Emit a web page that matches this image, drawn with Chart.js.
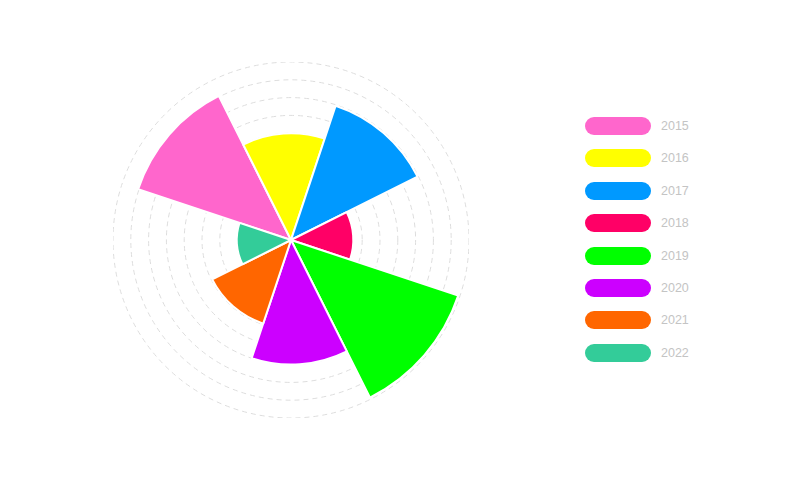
<!DOCTYPE html>
<html>
<head>
<meta charset="utf-8">
<script src="https://cdn.jsdelivr.net/npm/chart.js@4.4.1/dist/chart.umd.min.js"></script>
<style>
  html, body { margin:0; padding:0; background:#fff; }
  body { width:800px; height:480px; position:relative; overflow:hidden; font-family:"Liberation Sans", Arial, sans-serif; }
  #wrap { position:absolute; left:113px; top:62px; width:356px; height:356px; }
  #legend { position:absolute; left:585px; top:117px; margin:0; padding:0; list-style:none; }
  #legend li { display:flex; align-items:center; height:18px; margin-bottom:14.4px; }
  #legend .pill { width:66px; height:18px; border-radius:9px; }
  #legend .txt { margin-left:10px; font-size:12.5px; color:#c4c4c4; }
</style>
</head>
<body>
<div id="wrap"><canvas id="chartCanvas"></canvas></div>
<ul id="legend"></ul>
<script>
const years = ['2015','2016','2017','2018','2019','2020','2021','2022'];
const values = [9.05, 6.0, 7.95, 3.5, 9.9, 7.0, 4.95, 3.05];
const colors = ['#ff66cc','#ffff00','#0099ff','#ff0066','#00ff00','#cc00ff','#ff6600','#33cc99'];
const ringTicks = [0,1,2,3,4,5,6,7,8,9,10];

const chart = new Chart(document.getElementById('chartCanvas'), {
  type: 'polarArea',
  data: {
    labels: years,
    datasets: [{
      data: values,
      backgroundColor: colors,
      borderColor: '#fff',
      borderWidth: 2
    }]
  },
  options: {
    responsive: true,
    maintainAspectRatio: false,
    animation: false,
    plugins: { legend: { display:false }, tooltip: { enabled:false } },
    scales: {
      r: {
        min: ringTicks[0],
        max: ringTicks[ringTicks.length-1],
        startAngle: 288.4,
        ticks: { display:false, stepSize:1 },
        grid: { circular:true, color:'#dddddd', lineWidth:1 },
        border: { dash:[5,4] },
        angleLines: { display:false },
        pointLabels: { display:false }
      }
    }
  }
});

// legend built from the chart data
const ul = document.getElementById('legend');
chart.data.labels.forEach((lab, i) => {
  const li = document.createElement('li');
  li.innerHTML = '<span class="pill" style="background:' + colors[i] + '"></span><span class="txt">' + lab + '</span>';
  ul.appendChild(li);
});
</script>
</body>
</html>
